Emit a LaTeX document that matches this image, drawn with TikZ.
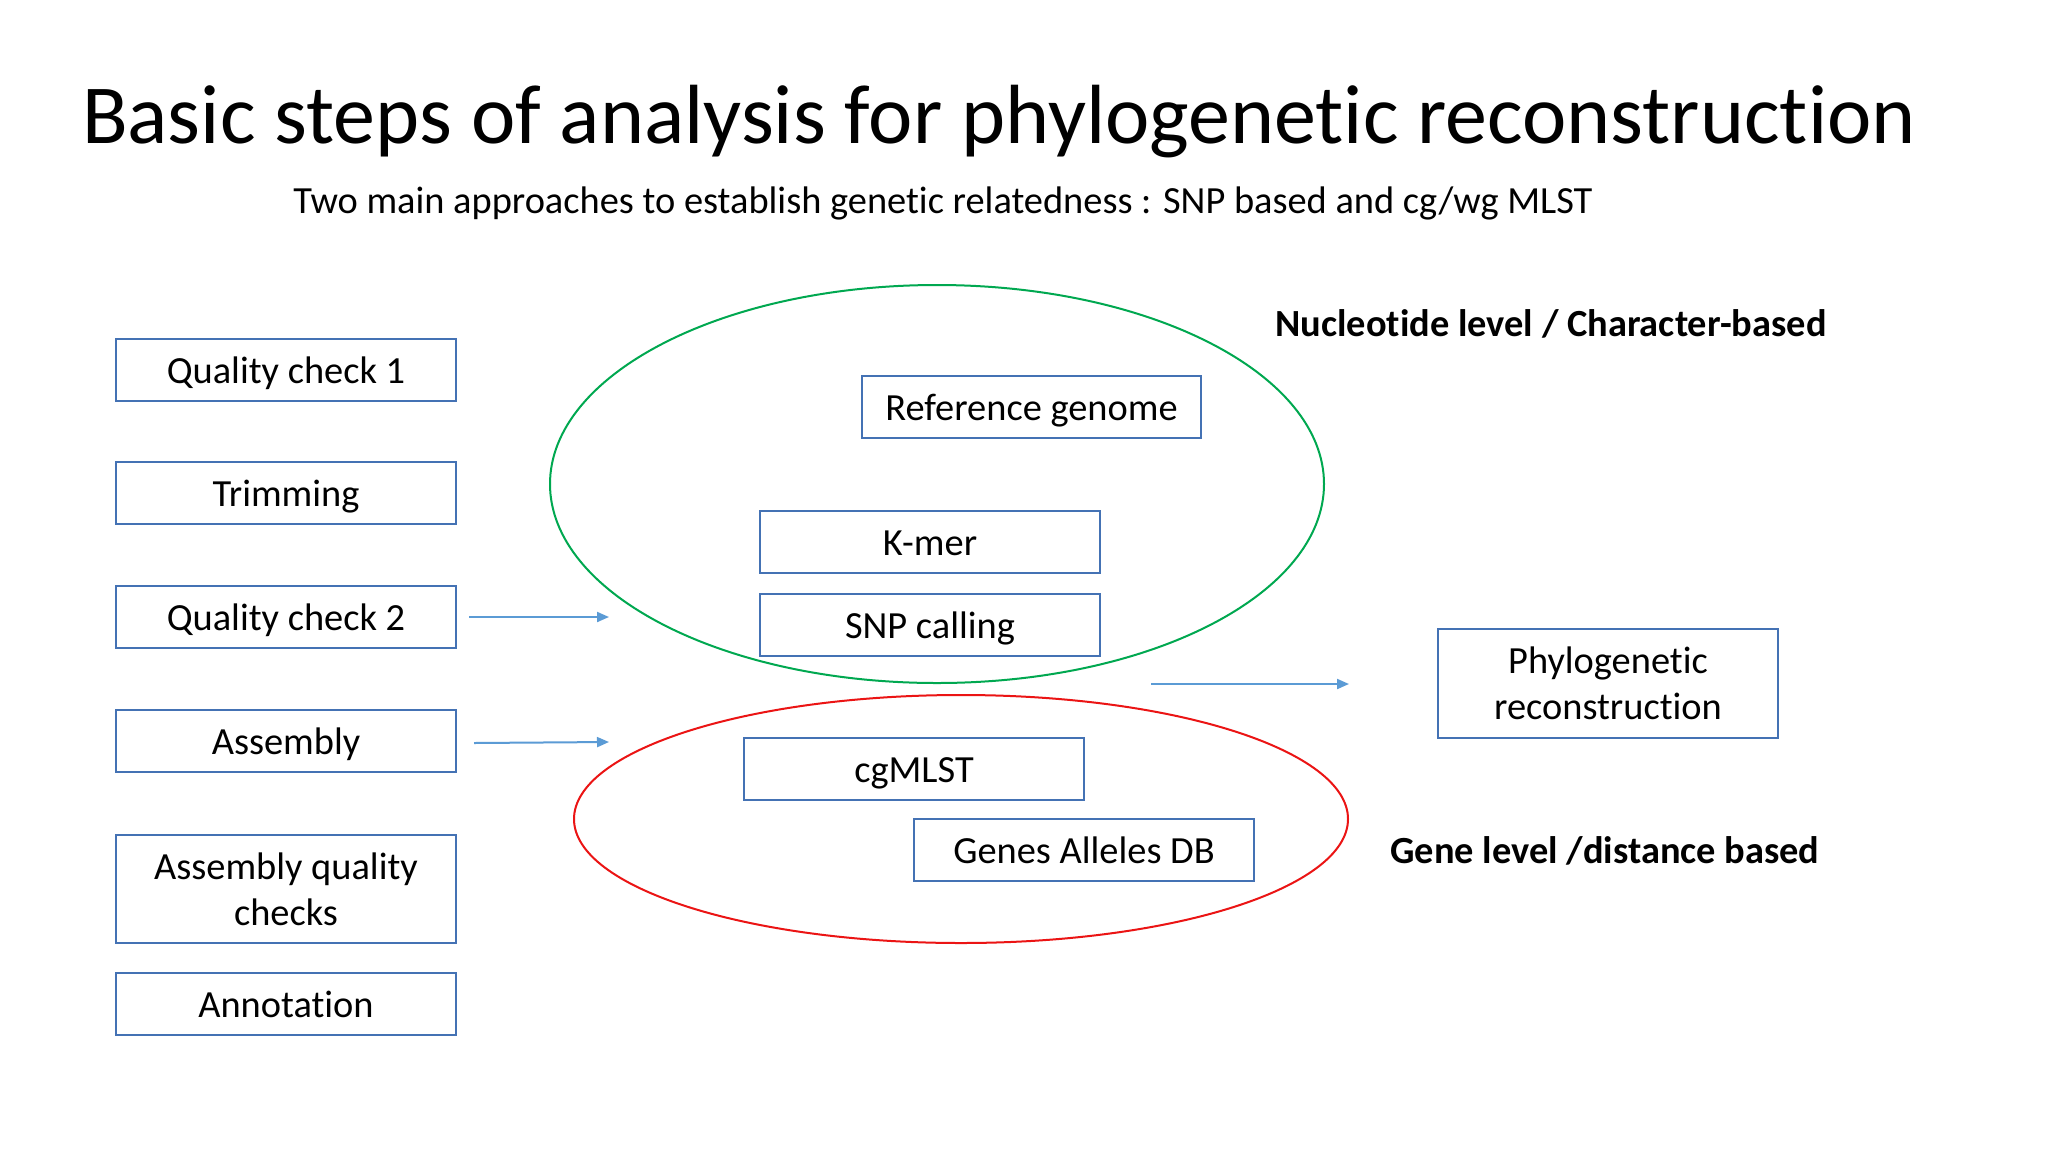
\documentclass[tikz,border=0pt]{standalone}
\usepackage{fontspec}
\setmainfont{Carlito}[Ligatures=NoCommon]
\usetikzlibrary{arrows.meta}
\definecolor{boxblue}{RGB}{68,114,180}
\definecolor{arrblue}{RGB}{91,155,213}
\definecolor{ellgreen}{RGB}{0,168,80}
\definecolor{ellred}{RGB}{235,20,20}
\begin{document}
\begin{tikzpicture}[x=1pt,y=-1pt,
  stepbox/.style={draw=boxblue,line width=2pt,minimum width=340pt,minimum height=62pt,inner sep=0pt,align=center,font=\fontsize{38.4}{46}\selectfont},
  oneline/.style={text height=31pt,text depth=4pt},
  flow/.style={draw=arrblue,line width=2pt,-{Triangle[length=12pt,width=10pt]}},
  lbl/.style={font=\fontsize{38.4}{42}\selectfont\bfseries,inner sep=0pt}]
\useasboundingbox (0,0) rectangle (2048,1152);
\fill[white] (0,0) rectangle (2048,1152);
\node[inner sep=0pt,anchor=base,font=\fontsize{84}{90}\selectfont] (title) at (999,143) {Basic steps of analysis for phylogenetic reconstruction};
\node[inner sep=0pt,anchor=base,font=\fontsize{38.4}{42}\selectfont] (sub) at (943,213) {Two main approaches to establish genetic relatedness : SNP based and cg/wg MLST};
% ellipses
\draw[ellgreen,line width=2pt] (937,484) ellipse [x radius=387,y radius=199];
\draw[ellred,line width=2pt] (961,819) ellipse [x radius=387,y radius=124];
% left column
\node[stepbox,oneline] (qc1) at (286,370) {Quality check 1};
\node[stepbox,oneline] (trim) at (286,493) {Trimming};
\node[stepbox,oneline] (qc2) at (286,617) {Quality check 2};
\node[stepbox,oneline] (asm) at (286,741) {Assembly};
\node[stepbox,minimum height=108pt] (aqc) at (286,889) {Assembly quality\\checks};
\node[stepbox,oneline] (ann) at (286,1004) {Annotation};
% middle
\node[stepbox,oneline,minimum width=339pt] (ref) at (1031.5,407) {Reference genome};
\node[stepbox,oneline] (kmer) at (930,541.5) {K-mer};
\node[stepbox,oneline] (snp) at (930,625) {SNP calling};
\node[stepbox,oneline] (cg) at (914,768.5) {cgMLST};
\node[stepbox,oneline] (gad) at (1084,849.5) {Genes Alleles DB};
\node[stepbox,minimum height=109pt] (phylo) at (1608,683.5) {Phylogenetic\\reconstruction};
% labels
\node[lbl] (nuc) at (1551,324) {Nucleotide level / Character-based};
\node[lbl] (gene) at (1605,851) {Gene level /distance based};
% arrows
\coordinate (a1s) at (469,617);
\coordinate (a1e) at (609,617);
\coordinate (a2s) at (474,743);
\coordinate (a2e) at (609,742);
\coordinate (a3s) at (1151,684);
\coordinate (a3e) at (1349,684);
\draw[flow] (a1s) -- (a1e);
\draw[flow] (a2s) -- (a2e);
\draw[flow] (a3s) -- (a3e);
\end{tikzpicture}
\end{document}
